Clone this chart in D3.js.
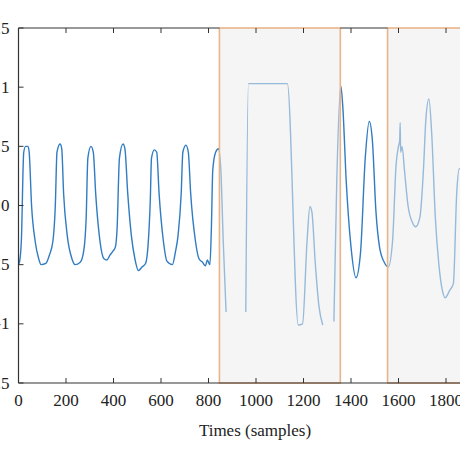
<!DOCTYPE html>
<html><head><meta charset="utf-8">
<script src="https://cdn.jsdelivr.net/npm/d3@7"></script>
<style>body{margin:0;background:#fff}</style>
</head><body>
<svg id="chart" width="460" height="460"></svg>
<script>
// signal samples (x = sample index, y = value); null marks a gap in the trace
const sampleX = [0,5,12,22,30,40,45,55,70,85,95,115,130,145,155,162,175,182,190,205,225,238,260,275,285,292,305,315,325,340,360,372,385,400,408,415,425,440,448,460,475,490,505,520,535,545,555,560,572,582,592,610,625,648,660,672,685,692,705,715,725,745,760,775,787,795,800,806,812,818,830,842,852,862,874,
  900,
  957,968,1132,1178,1196,1215,1227,1235,1250,1265,1281,
  1300,
  1328,1340,1357,1365,1380,1400,1421,1440,1460,1477,1490,1505,1520,1540,1557,1575,1590,1600,1605,1607,1609,1615,1625,1640,1660,1672,1690,1705,1715,1728,1740,1755,1770,1785,1796,1815,1831,1845,1856,1870];
const sampleY = [-0.5,-0.47,-0.3,0.45,0.5,0.5,0.45,0,-0.3,-0.45,-0.5,-0.49,-0.42,-0.3,0,0.45,0.52,0.48,0.1,-0.25,-0.45,-0.5,-0.48,-0.38,-0.1,0.4,0.5,0.45,0.1,-0.25,-0.45,-0.46,-0.42,-0.38,-0.35,-0.2,0.4,0.52,0.48,0.1,-0.25,-0.45,-0.55,-0.52,-0.49,-0.35,0.05,0.4,0.47,0.45,0.1,-0.3,-0.47,-0.5,-0.4,-0.25,0.1,0.45,0.51,0.45,0.1,-0.3,-0.45,-0.48,-0.51,-0.46,-0.48,-0.5,-0.2,0.3,0.45,0.48,0.3,-0.3,-0.9,
  null,
  -0.9,1.03,1.03,-1.01,-1.0,-0.3,-0.01,-0.05,-0.5,-0.85,-1.01,
  null,
  -0.98,0.2,1.01,0.85,0.2,-0.35,-0.61,-0.4,0.4,0.71,0.55,-0.05,-0.35,-0.48,-0.52,-0.3,0.35,0.5,0.55,0.7,0.45,0.5,0.3,0,-0.15,-0.18,-0.1,0.3,0.72,0.9,0.6,-0.1,-0.5,-0.72,-0.78,-0.72,-0.66,0.1,0.31,0.3];
// shaded segments [start, end]
const segStart = [846, 1554];
const segEnd = [1355, 2100];
const xTicks = [0,200,400,600,800,1000,1200,1400,1600,1800,2000];
const yTicks = [-1.5,-1,-0.5,0,0.5,1,1.5];

const svg = d3.select("#chart");
const mLeft = 18.5, mTop = 28, mBottom = 383;
const x = d3.scaleLinear().domain([0, 2000]).range([mLeft, mLeft + 2000 * 0.2375]);
const y = d3.scaleLinear().domain([-1.5, 1.5]).range([mBottom, mTop]);
const font = "Liberation Serif";

const data = sampleX.map((d, i) => ({x: d, y: sampleY[i]}));
const line = d3.line().defined(d => d.y !== null)
  .x(d => x(d.x)).y(d => y(d.y)).curve(d3.curveMonotoneX);

svg.append("path").datum(data)
  .attr("d", line).attr("fill", "none")
  .attr("stroke", "#2f7cc3").attr("stroke-width", 1.4);

// translucent shaded windows over the trace
svg.selectAll(".seg").data(segStart).enter().append("rect")
  .attr("x", d => x(d)).attr("y", mTop)
  .attr("width", (d, i) => x(segEnd[i]) - x(d)).attr("height", mBottom - mTop)
  .attr("fill", "#ededed").attr("fill-opacity", 0.55)
  .attr("stroke", "#e9b489").attr("stroke-width", 1.6);

// frame
const g = svg.append("g").attr("stroke", "#333").attr("stroke-width", 1.2);
g.append("line").attr("x1", mLeft).attr("x2", mLeft).attr("y1", mTop).attr("y2", mBottom);
g.append("line").attr("x1", mLeft).attr("x2", 470).attr("y1", mBottom).attr("y2", mBottom);
g.append("line").attr("x1", mLeft).attr("x2", x(846)).attr("y1", mTop).attr("y2", mTop);
g.append("line").attr("x1", x(1355)).attr("x2", x(1554)).attr("y1", mTop).attr("y2", mTop);

// ticks
svg.append("g").selectAll("g").data(xTicks).enter().append("g").each(function(d) {
  const s = d3.select(this);
  s.append("line").attr("x1", x(d)).attr("x2", x(d)).attr("y1", mBottom).attr("y2", mBottom - 5).attr("stroke", "#333");
  s.append("line").attr("x1", x(d)).attr("x2", x(d)).attr("y1", mTop).attr("y2", mTop + 5).attr("stroke", "#333");
  s.append("text").attr("x", x(d)).attr("y", 406).attr("text-anchor", "middle")
    .attr("font-family", font).attr("font-size", 17).attr("fill", "#222").text(d);
});
svg.append("g").selectAll("g").data(yTicks).enter().append("g").each(function(d) {
  const s = d3.select(this);
  s.append("line").attr("x1", mLeft).attr("x2", mLeft + 5).attr("y1", y(d)).attr("y2", y(d)).attr("stroke", "#333");
  s.append("text").attr("x", 9.5).attr("y", y(d) + 5.5).attr("text-anchor", "end")
    .attr("font-family", font).attr("font-size", 17).attr("fill", "#222").text(d);
});

svg.append("text").attr("x", 255).attr("y", 436).attr("text-anchor", "middle")
  .attr("font-family", font).attr("font-size", 17).attr("fill", "#222").text("Times (samples)");
</script>
</body></html>
